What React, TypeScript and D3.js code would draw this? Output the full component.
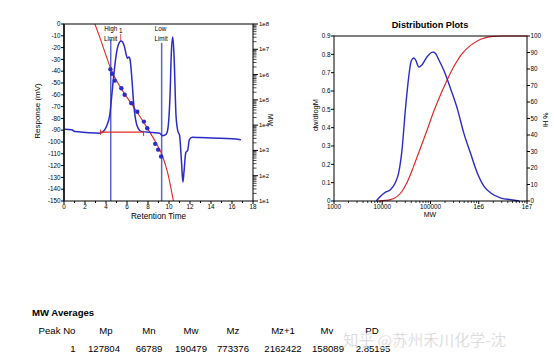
import React from 'react';
import * as d3 from 'd3';

// chromatogram (retention time vs response)
const chromTime = [0, 0.73, 1.04, 2.1, 3.4, 3.7, 4.04, 4.36, 4.6, 4.83, 5.05, 5.25, 5.45, 5.6, 5.75, 5.9, 6.03, 6.19, 6.3, 6.47, 6.66, 6.82, 7.04, 7.36, 8.46, 9.1, 9.4, 9.73, 9.88, 10.1, 10.22, 10.36, 10.48, 10.67, 10.85, 11.0, 11.2, 11.32, 11.42, 11.6, 11.78, 11.94, 12.2, 12.9, 14.1, 16.0, 16.85];
const chromResp = [-89.1, -89.6, -91.2, -91.9, -92.5, -91.5, -86.8, -77, -56, -36, -22, -16, -14.5, -15.5, -19, -25, -29, -28, -30.5, -47, -70, -81, -88, -91, -92, -92.5, -94.7, -93.6, -89.6, -60, -25, -11, -27, -78, -91, -94, -118, -134, -126, -109, -107, -98, -96, -96.2, -96.7, -97.3, -98];

// calibration curve (time vs log MW)
const calTime = [2.94, 3.41, 4.04, 4.52, 5.3, 6.57, 7.83, 8.78, 9.4, 9.88, 10.42];
const calLogMW = [8, 7.47, 6.71, 6.16, 5.55, 4.76, 3.95, 3.29, 2.76, 2.1, 1.0];

// standards
const stdTime = [4.42, 4.58, 4.83, 5.46, 5.78, 6.41, 6.98, 7.61, 7.93, 8.69, 8.97, 9.25];
const stdLogMW = [6.21, 6.03, 5.76, 5.46, 5.2, 4.87, 4.53, 4.14, 3.88, 3.26, 3.03, 2.76];

// distribution
const distLogMW = [3.875, 3.96, 4.06, 4.17, 4.27, 4.34, 4.41, 4.48, 4.55, 4.6, 4.65, 4.69, 4.76, 4.83, 4.93, 5.05, 5.1, 5.17, 5.28, 5.42, 5.56, 5.69, 5.83, 5.97, 6.11, 6.25, 6.46, 6.67, 6.84];
const distDw = [0, 0.025, 0.047, 0.062, 0.1, 0.153, 0.28, 0.5, 0.68, 0.763, 0.78, 0.77, 0.73, 0.745, 0.787, 0.812, 0.806, 0.772, 0.71, 0.61, 0.5, 0.37, 0.26, 0.153, 0.08, 0.044, 0.016, 0.007, 0];

const cumLogMW = [3.92, 4.17, 4.31, 4.41, 4.51, 4.65, 4.79, 4.93, 5.07, 5.21, 5.35, 5.49, 5.66, 5.83, 6.04, 6.25, 6.53, 7.0];
const cumPct = [0, 0.8, 2.8, 5.9, 11, 21, 32, 43, 54.5, 64.6, 73.7, 81.8, 89.5, 94.3, 98, 99.6, 100, 100];

// table
const tableHeaders = ['Peak No', 'Mp', 'Mn', 'Mw', 'Mz', 'Mz+1', 'Mv', 'PD'];
const tableValues = ['1', '127804', '66789', '190479', '773376', '2162422', '158089', '2.85195'];
const headerX = [57, 106, 149, 191, 233, 283, 327, 372];
const valueX = [73, 104, 149, 191, 233, 283, 328, 373];

const BLUE = '#2b2bc8';
const RED = '#e02828';
const LIMIT = '#5566cc';
const FONT = 'Liberation Sans, Arial, sans-serif';
const TICK_FS = 6.3;

const L = { left: 64, right: 253, top: 24, bottom: 201 };
const R = { left: 334, right: 527, top: 36, bottom: 201 };

const LeftChart = () => {
  const x = d3.scaleLinear().domain([0, 18]).range([L.left, L.right]);
  const y = d3.scaleLinear().domain([-150, 0]).range([L.bottom, L.top]);
  const yMW = d3.scaleLog().domain([10, 1e8]).range([L.bottom, L.top]);

  const chromLine = d3.line<number>().x((_, i) => x(chromTime[i])).y((_, i) => y(chromResp[i])).curve(d3.curveMonotoneX);
  const calLine = d3.line<number>().x((_, i) => x(calTime[i])).y((_, i) => yMW(Math.pow(10, calLogMW[i]))).curve(d3.curveMonotoneX);

  const minorMW: number[] = [];
  for (let e = 1; e < 8; e++) for (let k = 2; k <= 9; k++) minorMW.push(k * Math.pow(10, e));
  const majorMW = d3.range(1, 9).map((e) => Math.pow(10, e));

  return (
    <g fontFamily={FONT}>
      <defs>
        <clipPath id="clipL">
          <rect x={L.left} y={L.top} width={L.right - L.left} height={L.bottom - L.top} />
        </clipPath>
      </defs>
      {/* limit lines */}
      <line x1={x(4.45)} x2={x(4.45)} y1={y(-13)} y2={L.bottom} stroke={LIMIT} strokeWidth={1.5} />
      <line x1={x(9.3)} x2={x(9.3)} y1={y(-16)} y2={L.bottom} stroke={LIMIT} strokeWidth={1.5} />
      <text x={x(4.45)} y={31} fontSize={6.3} textAnchor="middle">High</text>
      <text x={x(4.45)} y={41} fontSize={6.3} textAnchor="middle">Limit</text>
      <text x={x(9.2)} y={31} fontSize={6.3} textAnchor="middle">Low</text>
      <text x={x(9.25)} y={41} fontSize={6.3} textAnchor="middle">Limit</text>
      <text x={x(5.4)} y={33} fontSize={6.3} textAnchor="middle">1</text>
      <line x1={x(5.4)} x2={x(5.4)} y1={34} y2={42} stroke={RED} strokeWidth={0.8} />

      <g clipPath="url(#clipL)">
        <path d={calLine(calTime) || ''} fill="none" stroke={RED} strokeWidth={1.1} />
        <path d={chromLine(chromTime) || ''} fill="none" stroke={BLUE} strokeWidth={1.5} />
      </g>
      {/* baseline */}
      <line x1={x(3.47)} x2={x(7.58)} y1={y(-91.6)} y2={y(-91.6)} stroke={RED} strokeWidth={1.1} />
      <line x1={x(3.47)} x2={x(3.47)} y1={y(-89.5)} y2={y(-94)} stroke={RED} strokeWidth={1} />
      <line x1={x(7.58)} x2={x(7.58)} y1={y(-90.5)} y2={y(-95)} stroke={RED} strokeWidth={1} />
      {stdTime.map((t, i) => (
        <circle key={i} cx={x(t)} cy={yMW(Math.pow(10, stdLogMW[i]))} r={2.2} fill={BLUE} />
      ))}

      {/* frame */}
      <rect x={L.left} y={L.top} width={L.right - L.left} height={L.bottom - L.top} fill="none" stroke="#000" strokeWidth={1} />
      <line x1={L.left} x2={L.left} y1={L.top} y2={L.bottom} stroke="#222" strokeWidth={1.8} />

      {/* left axis */}
      {d3.range(-150, 1, 10).map((v) => (
        <g key={v}>
          <line x1={L.left - 3} x2={L.left} y1={y(v)} y2={y(v)} stroke="#000" />
          <text x={L.left - 3.5} y={y(v) + 2.2} fontSize={TICK_FS} textAnchor="end">{v}</text>
        </g>
      ))}
      {/* bottom axis */}
      {d3.range(0, 19, 1).map((t) => (
        <line key={t} x1={x(t)} x2={x(t)} y1={L.bottom} y2={L.bottom + (t % 2 === 0 ? 3 : 2)} stroke="#000" />
      ))}
      {d3.range(0, 19, 2).map((t) => (
        <text key={t} x={x(t)} y={209} fontSize={TICK_FS} textAnchor="middle">{t}</text>
      ))}
      {/* right axis */}
      {minorMW.map((m, i) => (
        <line key={i} x1={L.right} x2={L.right + 3.5} y1={yMW(m)} y2={yMW(m)} stroke="#000" strokeWidth={0.7} />
      ))}
      {majorMW.map((m, i) => (
        <g key={i}>
          <line x1={L.right} x2={L.right + 5} y1={yMW(m)} y2={yMW(m)} stroke="#000" />
          <text x={L.right + 6} y={yMW(m) + 2} fontSize={6} textAnchor="start">{`1e${i + 1}`}</text>
        </g>
      ))}
      <text x={40} y={111} fontSize={8} textAnchor="middle" transform="rotate(-90 40 111)">Response (mV)</text>
      <text x={x(9)} y={219} fontSize={8.2} textAnchor="middle">Retention Time</text>
      <text x={268} y={120} fontSize={6.8} textAnchor="middle" transform="rotate(90 268 120)">MW</text>
    </g>
  );
};

const RightChart = () => {
  const x = d3.scaleLog().domain([1000, 1e7]).range([R.left, R.right]);
  const y = d3.scaleLinear().domain([0, 0.9]).range([R.bottom, R.top]);
  const yP = d3.scaleLinear().domain([0, 100]).range([R.bottom, R.top]);

  const distLine = d3.line<number>().x((_, i) => x(Math.pow(10, distLogMW[i]))).y((_, i) => y(distDw[i])).curve(d3.curveMonotoneX);
  const cumLine = d3.line<number>().x((_, i) => x(Math.pow(10, cumLogMW[i]))).y((_, i) => yP(cumPct[i])).curve(d3.curveMonotoneX);

  const minorX: number[] = [];
  for (let e = 3; e < 7; e++) for (let k = 2; k <= 9; k++) minorX.push(k * Math.pow(10, e));
  const majorX = [1000, 10000, 100000, 1e6, 1e7];
  const majorLabels = ['1000', '10000', '100000', '1e6', '1e7'];

  return (
    <g fontFamily={FONT}>
      <text x={430} y={27.5} fontSize={9.2} fontWeight="bold" textAnchor="middle">Distribution Plots</text>
      <path d={cumLine(cumLogMW) || ''} fill="none" stroke={RED} strokeWidth={1.2} />
      <path d={distLine(distLogMW) || ''} fill="none" stroke={BLUE} strokeWidth={1.4} />
      <rect x={R.left} y={R.top} width={R.right - R.left} height={R.bottom - R.top} fill="none" stroke="#000" strokeWidth={1} />

      {d3.range(0, 10).map((i) => {
        const v = i / 10;
        return (
          <g key={i}>
            <line x1={R.left - 3} x2={R.left} y1={y(v)} y2={y(v)} stroke="#000" />
            <text x={R.left - 3.5} y={y(v) + 2.2} fontSize={TICK_FS} textAnchor="end">{i === 0 ? '0' : v.toFixed(1)}</text>
          </g>
        );
      })}
      {d3.range(0, 101, 10).map((v) => (
        <g key={v}>
          <line x1={R.right} x2={R.right + 3} y1={yP(v)} y2={yP(v)} stroke="#000" />
          <text x={R.right + 3.5} y={yP(v) + 2.2} fontSize={TICK_FS} textAnchor="start">{v}</text>
        </g>
      ))}
      {minorX.map((m, i) => (
        <line key={i} x1={x(m)} x2={x(m)} y1={R.bottom} y2={R.bottom + 2} stroke="#000" strokeWidth={0.8} />
      ))}
      {majorX.map((m, i) => (
        <g key={i}>
          <line x1={x(m)} x2={x(m)} y1={R.bottom} y2={R.bottom + 3} stroke="#000" />
          <text x={x(m)} y={209} fontSize={TICK_FS} textAnchor="middle">{majorLabels[i]}</text>
        </g>
      ))}
      <text x={430} y={217} fontSize={7} textAnchor="middle">MW</text>
      <text x={318} y={115} fontSize={7.5} textAnchor="middle" transform="rotate(-90 318 115)">dw/dlogM</text>
      <text x={543} y={120} fontSize={7} textAnchor="middle" transform="rotate(90 543 120)">% Hi</text>
    </g>
  );
};

const Table = () => (
  <g fontFamily={FONT} fontSize={9.6}>
    <text x={32} y={316} fontWeight="bold">MW Averages</text>
    {tableHeaders.map((h, i) => (
      <text key={h} x={headerX[i]} y={334} textAnchor="middle">{h}</text>
    ))}
    {tableValues.map((v, i) => (
      <text key={i} x={valueX[i]} y={352} textAnchor="middle">{v}</text>
    ))}
  </g>
);

export default function App() {
  return (
    <svg width={554} height={361} style={{ position: 'absolute', left: 0, top: 0, background: '#fff' }}>
      <rect width={554} height={361} fill="#fff" />
      <LeftChart />
      <RightChart />
      <Table />
      <text x={343} y={346} fontSize={15.5} fill="#c8c8c8" fillOpacity={0.85} fontFamily="Noto Sans CJK SC" stroke="#fff" strokeWidth={0.3}>知乎 @苏州禾川化学-沈</text>
    </svg>
  );
}
